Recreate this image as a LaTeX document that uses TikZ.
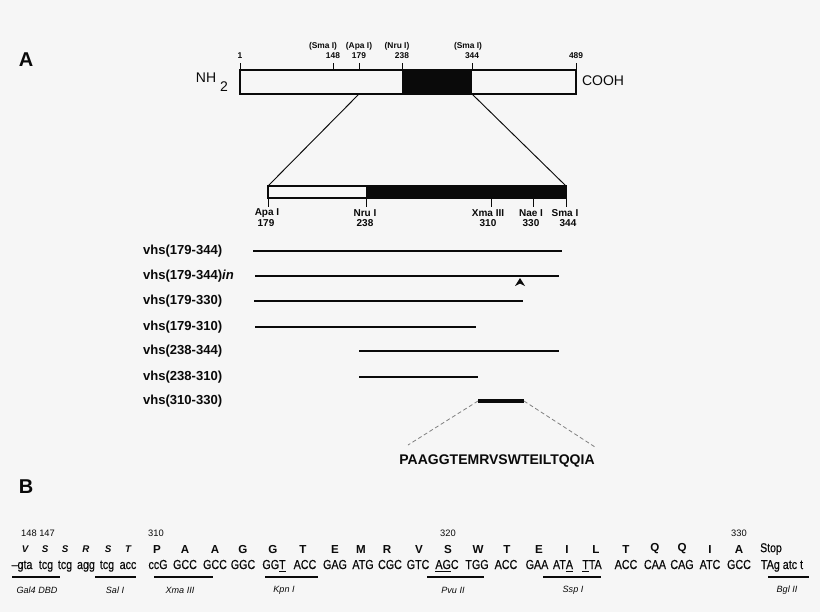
\documentclass[tikz,border=0pt]{standalone}
\usepackage{fontspec}
\setmainfont{Liberation Sans}
\newfontfamily\condf[FakeStretch=0.82,FakeBold=0.4]{Liberation Sans}
\definecolor{bgc}{RGB}{246,246,246}
\definecolor{ink}{RGB}{10,10,10}
\begin{document}
\begin{tikzpicture}[x=0.75pt,y=-0.75pt,
  every node/.style={inner sep=0pt,outer sep=0pt,text=ink},
  barline/.style={draw=ink,line width=1.4pt},
  tk/.style={draw=ink,line width=0.7pt},
  zoomln/.style={draw=ink,line width=0.7pt},
  cons/.style={draw=ink,line width=1.5pt},
  dots/.style={draw=gray,line width=0.6pt,densely dashed},
  tiny/.style={font=\fontsize{6.3}{7}\selectfont\bfseries},
  site/.style={font=\fontsize{7.5}{8}\selectfont\bfseries},
  clab/.style={font=\fontsize{9.8}{11}\selectfont\bfseries,anchor=west},
  panel/.style={font=\fontsize{15}{16}\selectfont\bfseries},
  aai/.style={font=\fontsize{7.3}{8}\selectfont\bfseries\itshape},
  aab/.style={font=\fontsize{8.7}{9}\selectfont\bfseries},
  cod/.style={font=\condf\fontsize{9.8}{10}\selectfont},
  enz/.style={font=\fontsize{6.8}{7}\selectfont\itshape},
  num/.style={font=\fontsize{7}{8}\selectfont},
  sub/.style={draw=ink,line width=0.8pt}]
\fill[bgc] (0,0) rectangle (820,612);
\useasboundingbox (0,0) rectangle (820,612);

% Panel labels
\node[panel] (pA) at (26,60) {A};
\node[panel] (pB) at (26,487) {B};

% Main protein bar
\coordinate (m1) at (240,70);
\coordinate (m2) at (576,94);
\fill[ink] (402,70) rectangle (472,94);
\draw[barline] (m1) rectangle (m2);
\node[font=\fontsize{10.5}{12}\selectfont] (nh) at (206,78) {NH};
\node[font=\fontsize{10.5}{12}\selectfont] (nh2) at (224,87) {2};
\node[font=\fontsize{10.5}{12}\selectfont,anchor=west] (cooh) at (582,81) {COOH};
% ticks and labels on main bar
\foreach \x/\n/\l in {240/p1/1,333/p148/148,359/p179/179,402/p238/238,472/p344/344,576/p489/489}{
  \coordinate (t\n) at (\x,63);
  \draw[tk] (t\n) -- (\x,70);
  \node[tiny] (n\n) at (\x,56) {\l};
}
\node[tiny] (sma1) at (323,46) {(Sma I)};
\node[tiny] (apa1) at (359,46) {(Apa I)};
\node[tiny] (nru1) at (397,46) {(Nru I)};
\node[tiny] (sma2) at (468,46) {(Sma I)};

% zoom lines
\coordinate (za) at (359,94);
\coordinate (zb) at (472,94);
\coordinate (zc) at (268,186);
\coordinate (zd) at (566,186);
\draw[zoomln] (za) -- (zc);
\draw[zoomln] (zb) -- (zd);

% second bar
\fill[ink] (366,186) rectangle (566,198);
\draw[draw=ink,line width=1.2pt] (268,186) rectangle (566,198);
\foreach \x/\n in {268/a,366/b,491/c,533/d,566/e}{
  \coordinate (s\n) at (\x,198);
  \draw[tk] (s\n) -- (\x,207);
}
\node[site] (e1) at (267,213) {Apa I};
\node[site] (f1) at (266,223) {179};
\node[site] (e2) at (365,213) {Nru I};
\node[site] (f2) at (365,223) {238};
\node[site] (e3) at (488,213) {Xma III};
\node[site] (f3) at (488,223) {310};
\node[site] (e4) at (531,213) {Nae I};
\node[site] (f4) at (531,223) {330};
\node[site] (e5) at (565,213) {Sma I};
\node[site] (f5) at (568,223) {344};

% constructs
\node[clab] (c1) at (143,251) {vhs(179-344)};
\node[clab] (c2) at (143,276) {vhs(179-344)\textit{in}};
\node[clab] (c3) at (143,301) {vhs(179-330)};
\node[clab] (c4) at (143,327) {vhs(179-310)};
\node[clab] (c5) at (143,351) {vhs(238-344)};
\node[clab] (c6) at (143,377) {vhs(238-310)};
\node[clab] (c7) at (143,401) {vhs(310-330)};
\draw[cons] (253,251) -- (562,251);
\draw[cons] (255,276) -- (559,276);
\draw[cons] (254,301) -- (523,301);
\draw[cons] (255,327) -- (476,327);
\draw[cons] (359,351) -- (559,351);
\draw[cons] (359,377) -- (478,377);
\coordinate (q1) at (478,401);
\coordinate (q2) at (524,401);
\draw[draw=ink,line width=2.4pt] (q1) -- (q2);
% insertion caret
\fill[ink] (520,278) -- (525,286) -- (520,283.5) -- (515,286) -- cycle;

% peptide
\coordinate (pl) at (408,445);
\coordinate (pr) at (595,447);
\draw[dots] (q1) -- (pl);
\draw[dots] (q2) -- (pr);
\node[font=\fontsize{10.5}{12}\selectfont\bfseries] (pep) at (497,461) {PAAGGTEMRVSWTEILTQQIA};

% Panel B numbers
\node[num] (b148) at (38,533) {148 147};
\node[num] (b310) at (156,533) {310};
\node[num] (b320) at (448,533) {320};
\node[num] (b330) at (739,533) {330};

% amino acids (italic)
\foreach \x/\a/\n in {25/V/1,45/S/2,65/S/3,86/R/4,108/S/5,128/T/6}{
  \node[aai] (ai\n) at (\x,549) {\a};
}
% amino acids (bold)
\foreach \x/\a/\n in {157/P/1,185/A/2,215/A/3,243/G/4,273/G/5,303/T/6,335/E/7,361/M/8,387/R/9,419/V/10,448/S/11,478/W/12,507/T/13,539/E/14,567/I/15,596/L/16,626/T/17,655/Q/18,682/Q/19,710/I/20,739/A/21}{
  \node[aab] (ab\n) at (\x,549) {\a};
}
\node[font=\condf\fontsize{9.6}{10}\selectfont] (stop) at (771,549) {Stop};

% codons
\foreach \x/\c/\n in {22/{\textendash gta}/1,46/tcg/2,65/tcg/3,86/agg/4,107/tcg/5,128/acc/6,158/ccG/7,185/GCC/8,215/GCC/9,243/GGC/10,274/{GG\underline{T}}/11,305/ACC/12,335/GAG/13,363/ATG/14,390/CGC/15,418/GTC/16,447/{\underline{AG}C}/17,477/TGG/18,506/ACC/19,537/GAA/20,563/{AT\underline{A}}/21,592/{\underline{T}TA}/22,626/ACC/23,655/CAA/24,682/CAG/25,710/ATC/26,739/GCC/27,782/{TAg atc t}/28}{
  \node[cod,anchor=base] (cd\n) at (\x,569) {\c};
}

% restriction site underlines
\draw[sub] (12,577) -- (60,577);
\draw[sub] (95,577) -- (136,577);
\draw[sub] (154,577) -- (213,577);
\draw[sub] (265,577) -- (318,577);
\draw[sub] (427,577) -- (484,577);
\draw[sub] (543,577) -- (601,577);
\draw[sub] (768,577) -- (809,577);

% enzyme labels
\node[enz] (g1) at (37,590) {Gal4 DBD};
\node[enz] (g2) at (115,590) {Sal I};
\node[enz] (g3) at (180,590) {Xma III};
\node[enz] (g4) at (284,590) {Kpn I};
\node[enz] (g5) at (453,590) {Pvu II};
\node[enz] (g6) at (573,590) {Ssp I};
\node[enz] (g7) at (787,590) {Bgl II};
\end{tikzpicture}
\end{document}
